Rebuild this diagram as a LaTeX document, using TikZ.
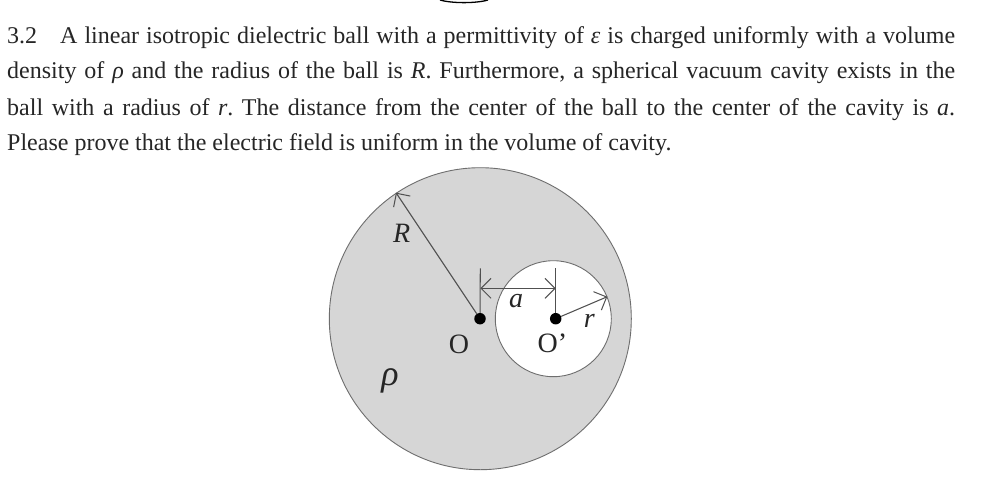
\documentclass[tikz,border=0pt]{standalone}
\usepackage{fontspec}
\setmainfont{Liberation Serif}
\usetikzlibrary{arrows.meta}
\definecolor{ballgray}{HTML}{D6D6D6}
\definecolor{edgegray}{HTML}{6E6E6E}
\definecolor{linegray}{HTML}{505050}
\definecolor{inkc}{HTML}{262626}
\frenchspacing
\tikzset{
  para/.style={anchor=base west,inner sep=0pt,text=inkc,font=\fontsize{24}{28}\selectfont},
  lab/.style={inner sep=0pt,text=inkc,font=\fontsize{28}{30}\selectfont},
  dotn/.style={circle,fill=black,inner sep=0pt,minimum size=11.5pt},
  ballc/.style={draw=edgegray,line width=0.9pt},
  dim/.style={draw=linegray,line width=1.05pt},
  barb/.style={-{Straight Barb[length=10pt,width=20pt,line width=1pt]}},
  dbarb/.style={{Straight Barb[length=10pt,width=20pt,line width=1pt]}-{Straight Barb[length=10pt,width=20pt,line width=1pt]}}
}
\begin{document}
\begin{tikzpicture}[x=1pt,y=-1pt]
\useasboundingbox (0,0) rectangle (992,476);
\fill[white] (0,0) rectangle (992,476);
\clip (0,0) rectangle (992,476);
\draw[black,line width=1.3pt] (440,0) .. controls (452,3.5) and (476,3.5) .. (488,0);
% text
\node[para] (l1) at (7,43.5) {\makebox[948pt][s]{3.2\hspace{16pt} A linear isotropic dielectric ball with a permittivity of \textit{ε} is charged uniformly with a volume}};
\node[para] (l2) at (7,79) {\makebox[948pt][s]{density of \textit{ρ} and the radius of the ball is \textit{R}. Furthermore, a spherical vacuum cavity exists in the}};
\node[para] (l3) at (7,115) {\makebox[948pt][s]{ball with a radius of \textit{r}. The distance from the center of the ball to the center of the cavity is \textit{a}.}};
\node[para] (l4) at (7,150.5) {Please prove that the electric field is uniform in the volume of cavity.};
% ball and cavity
\node[ballc,circle,fill=ballgray,inner sep=0pt,minimum size=302pt] (ball) at (480.3,318.7) {};
\node[ballc,circle,fill=white,inner sep=0pt,minimum size=116pt] (cavity) at (553.3,318.7) {};
% centres
\node[dotn] (O) at (480,318.7) {};
\node[dotn] (Op) at (555.7,318.7) {};
% free ends
\coordinate (Rtip) at (396,192.7);
\coordinate (rtip) at (607.3,296.7);
\coordinate (Otop) at (480.3,268.3);
\coordinate (Optop) at (555.7,268.3);
\coordinate (aL) at (480.3,288.3);
\coordinate (aR) at (555.7,288.3);
% connectors
\draw[dim,barb] (O) -- (Rtip);
\draw[dim,barb] (Op) -- (rtip);
\draw[dim] (O) -- (Otop);
\draw[dim] (Op) -- (Optop);
\draw[dim,dbarb] (aL) -- (aR);
% labels
\node[lab] (Rl) at (401.7,233.5) {\textit{R}};
\node[lab] (al) at (516,301) {\textit{a}};
\node[lab] (rl) at (589.3,320.5) {\textit{r}};
\node[lab] (Ol) at (459,344) {O};
\node[lab] (Opl) at (552.5,343.5) {O’};
\node[lab,font=\fontsize{36}{38}\selectfont] (rho) at (390,381) {\textit{ρ}};
\end{tikzpicture}
\end{document}
